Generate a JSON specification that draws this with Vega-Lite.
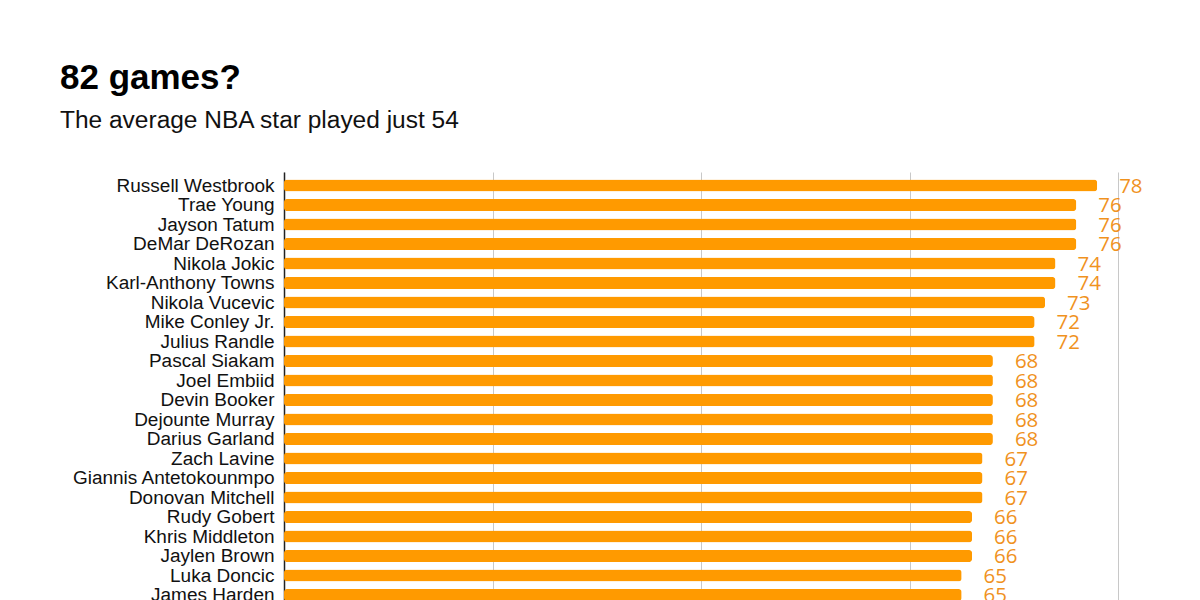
{
  "$schema": "https://vega.github.io/schema/vega-lite/v6.json",
  "autosize": {"type": "none"},
  "padding": {"left": 284, "top": 172, "right": 82, "bottom": 0},
  "width": 834,
  "height": {"step": 19.5},
  "background": "white",
  "title": {
    "text": "82 games?",
    "subtitle": "The average NBA star played just 54",
    "anchor": "start",
    "frame": "group",
    "dx": -224,
    "offset": 39,
    "font": "Liberation Sans",
    "fontSize": 35,
    "fontWeight": "bold",
    "color": "#000000",
    "subtitleFont": "Liberation Sans",
    "subtitleFontSize": 24.5,
    "subtitleColor": "#111111",
    "subtitlePadding": 13
  },
  "data": {
    "values": [
      {"player": "Russell Westbrook", "games": 78},
      {"player": "Trae Young", "games": 76},
      {"player": "Jayson Tatum", "games": 76},
      {"player": "DeMar DeRozan", "games": 76},
      {"player": "Nikola Jokic", "games": 74},
      {"player": "Karl-Anthony Towns", "games": 74},
      {"player": "Nikola Vucevic", "games": 73},
      {"player": "Mike Conley Jr.", "games": 72},
      {"player": "Julius Randle", "games": 72},
      {"player": "Pascal Siakam", "games": 68},
      {"player": "Joel Embiid", "games": 68},
      {"player": "Devin Booker", "games": 68},
      {"player": "Dejounte Murray", "games": 68},
      {"player": "Darius Garland", "games": 68},
      {"player": "Zach Lavine", "games": 67},
      {"player": "Giannis Antetokounmpo", "games": 67},
      {"player": "Donovan Mitchell", "games": 67},
      {"player": "Rudy Gobert", "games": 66},
      {"player": "Khris Middleton", "games": 66},
      {"player": "Jaylen Brown", "games": 66},
      {"player": "Luka Doncic", "games": 65},
      {"player": "James Harden", "games": 65}
    ]
  },
  "encoding": {
    "y": {
      "field": "player",
      "type": "nominal",
      "sort": null,
      "title": null,
      "scale": {"paddingInner": 0.385, "paddingOuter": 0.39},
      "axis": {
        "domainColor": "#222222",
        "domainWidth": 1.5,
        "ticks": false,
        "labelPadding": 10,
        "labelFont": "Liberation Sans",
        "labelFontSize": 19,
        "labelColor": "#111111",
        "labelLimit": 400
      }
    },
    "x": {
      "field": "games",
      "type": "quantitative",
      "title": null,
      "scale": {"domain": [0, 80]},
      "axis": {
        "values": [0, 20, 40, 60, 80],
        "domain": false,
        "ticks": false,
        "labels": false,
        "grid": true,
        "gridColor": "#c8c8c8",
        "gridWidth": 1
      }
    }
  },
  "layer": [
    {
      "mark": {"type": "bar", "color": "#ff9a00", "cornerRadius": 3}
    },
    {
      "mark": {
        "type": "text",
        "align": "left",
        "baseline": "middle",
        "dx": 22,
        "dy": 1,
        "font": "Open Sans",
        "fontSize": 20.5,
        "color": "#f0921e"
      },
      "encoding": {"text": {"field": "games", "type": "quantitative"}}
    }
  ],
  "config": {"view": {"stroke": null}}
}
